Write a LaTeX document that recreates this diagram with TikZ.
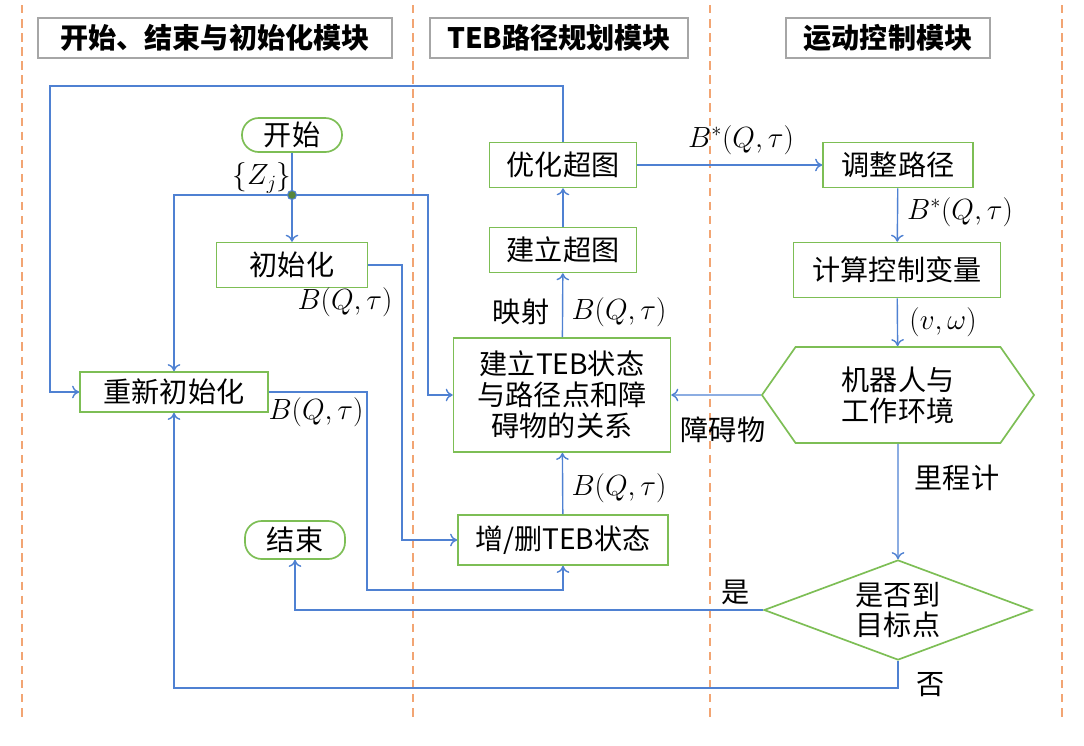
\documentclass[tikz,border=0pt]{standalone}
\usepackage{fontspec}
\setmainfont{Noto Sans CJK SC}
\usetikzlibrary{shapes.geometric,shapes.symbols,arrows.meta}
\definecolor{lineblue}{RGB}{79,129,210}
\definecolor{boxgreen}{RGB}{125,190,85}
\definecolor{dashorange}{RGB}{242,165,115}
\tikzset{
  box/.style={draw=boxgreen, line width=1.2pt, fill=white, inner sep=0pt},
  term/.style={box, rounded corners=0.42cm},
  head/.style={draw=gray!70, line width=0.8pt, inner sep=0pt, font=\fontsize{20}{22}\selectfont\bfseries},
  flow/.style={draw=lineblue, line width=1pt, -{To[length=5pt,width=9pt]}},
  wire/.style={draw=lineblue, line width=1pt},
  sep/.style={draw=dashorange, line width=1.2pt, dash pattern=on 6pt off 4pt},
  lab/.style={inner sep=1pt}
}
\begin{document}
\begin{tikzpicture}[x=0.025cm, y=-0.025cm, font=\fontsize{20}{22}\selectfont]
    \useasboundingbox (0,0) rectangle (1084,745);
    % column borders
    \foreach \xx in {22,413,710,1062}
        \draw[sep] (\xx,5) -- (\xx,720);
    % module headings
    \node[head, minimum width=8.85cm, minimum height=1cm] (h1) at (215,38) {开始、结束与初始化模块};
    \node[head, minimum width=6.45cm, minimum height=1cm] (h2) at (559,38) {TEB路径规划模块};
    \node[head, minimum width=5.1cm, minimum height=1cm] (h3) at (888,38) {运动控制模块};
    % left column
    \node[term, minimum width=2.5cm, minimum height=0.85cm] (start) at (292,135) {开始};
    \node[box, minimum width=3.78cm, minimum height=1.12cm] (init) at (292,265) {初始化};
    \node[box, minimum width=4.7cm, minimum height=1cm] (reinit) at (174,392) {重新初始化};
    \node[term, minimum width=2.5cm, minimum height=0.95cm] (stop) at (295,540) {结束};
    % middle column
    \node[box, minimum width=3.68cm, minimum height=1.12cm] (opt) at (563,165) {优化超图};
    \node[box, minimum width=3.68cm, minimum height=1.12cm] (build) at (563,250) {建立超图};
    \node[box, minimum width=5.42cm, minimum height=2.85cm, align=center] (teb) at (562,395)
        {建立TEB状态\\与路径点和障\\碍物的关系};
    \node[box, minimum width=5.25cm, minimum height=1.25cm] (adddel) at (563,540) {增/删TEB状态};
    % right column
    \node[box, minimum width=3.75cm, minimum height=1.12cm] (adjust) at (898,165) {调整路径};
    \node[box, minimum width=5.18cm, minimum height=1.37cm] (ctrl) at (897,270) {计算控制变量};
    \node[box, signal, signal to=west and east, signal pointer angle=110, align=center,
        minimum width=6.8cm, minimum height=2.4cm] (env) at (898,395) {机器人与\\工作环境};
    \node[box, diamond, aspect=2.7, align=center, minimum width=6.7cm, minimum height=2.5cm]
        (goal) at (898,610) {是否到\\目标点};
    % bend points
    \coordinate (dot) at (292,195);
    \coordinate (topleft) at (50,86);
    \coordinate (topright) at (563,86);
    \coordinate (dotright) at (428,195);
    \coordinate (initright) at (402,265);
    \coordinate (reright) at (367,392);
    \coordinate (rebottom) at (367,590);
    \coordinate (nobend) at (898,688);
    % connectors
    \draw[wire] (start) -- (dot);
    \draw[flow] (dot) -- (init);
    \draw[flow] (dot) -| (reinit.north);
    \draw[flow] (dot) -- (dotright) |- (teb.west);
    \draw[flow] (init.east) -- (initright) |- (adddel.west);
    \draw[flow] (reinit.east) -- (reright) -- (rebottom) -| (adddel.south);
    \draw[flow] (adddel) -- (teb);
    \draw[flow] (teb) -- (build);
    \draw[flow] (build) -- (opt);
    \draw[flow] (opt.north) -- (topright) -- (topleft) |- (reinit.west);
    \draw[flow] (opt) -- (adjust);
    \draw[flow] (adjust) -- (ctrl);
    \draw[flow] (ctrl) -- (env);
    \draw[flow] (env) -- (teb);
    \draw[flow] (env) -- (goal);
    \draw[flow] (goal.west) -| (stop.south);
    \draw[flow] (goal.south) -- (nobend) -| (reinit.south);
    \fill[boxgreen!70!black] (dot) circle (4.5);
    \draw[lineblue, line width=0.8pt] (dot) circle (4.5);
    % labels
    \node[lab] (zj) at (262,178) {$\{Z_j\}$};
    \node[lab] (lb1) at (345,302) {$B(Q,\tau)$};
    \node[lab] (lb2) at (316,412) {$B(Q,\tau)$};
    \node[lab] (map) at (521,312) {映射};
    \node[lab] (lb3) at (619,312) {$B(Q,\tau)$};
    \node[lab] (lb4) at (619,488) {$B(Q,\tau)$};
    \node[lab] (lb5) at (741,140) {$B^*(Q,\tau)$};
    \node[lab] (lb6) at (960,212) {$B^*(Q,\tau)$};
    \node[lab] (vw) at (943,322) {$(v,\omega)$};
    \node[lab] (obs) at (723,430) {障碍物};
    \node[lab] (odo) at (957,478) {里程计};
    \node[lab] (yes) at (736,592) {是};
    \node[lab] (no) at (931,685) {否};
\end{tikzpicture}
\end{document}
